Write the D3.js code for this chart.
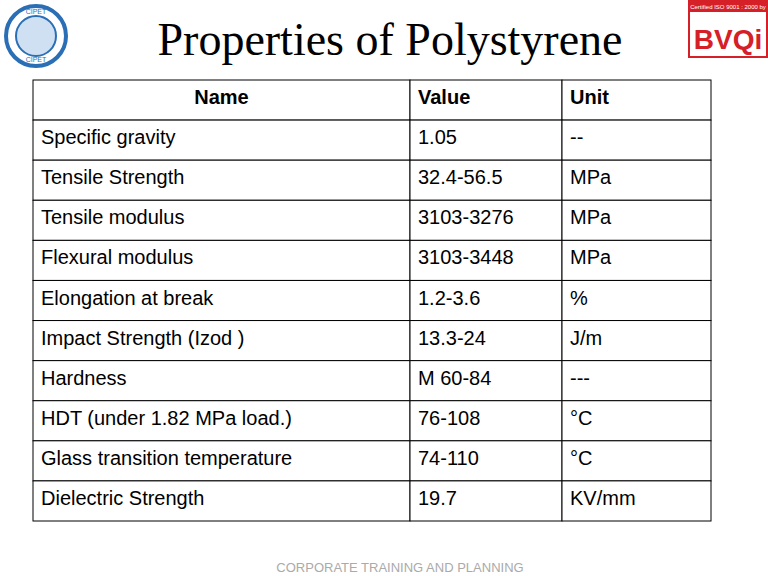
<!DOCTYPE html>
<html><head><meta charset="utf-8">
<script src="https://cdn.jsdelivr.net/npm/d3@7/dist/d3.min.js"></script>
<style>body{margin:0;background:#fff}</style></head>
<body><svg id="c" width="768" height="576"></svg>
<script>
const headers = ["Name","Value","Unit"];
const names = ["Specific gravity","Tensile Strength","Tensile modulus","Flexural modulus","Elongation at break","Impact Strength (Izod )","Hardness","HDT (under 1.82 MPa load.)","Glass transition temperature","Dielectric Strength"];
const values = ["1.05","32.4-56.5","3103-3276","3103-3448","1.2-3.6","13.3-24","M 60-84","76-108","74-110","19.7"];
const units = ["--","MPa","MPa","MPa","%","J/m","---","°C","°C","KV/mm"];

const svg = d3.select("#c");
const colEdges = [33,410,562,711];
const rows = [headers, ...names.map((n,i)=>[n,values[i],units[i]])];
const y = d3.scaleBand().domain(d3.range(rows.length)).range([80,521]);

svg.append("text").attr("x",390).attr("y",55).attr("text-anchor","middle")
  .attr("font-family","Liberation Serif").attr("font-size",46).text("Properties of Polystyrene");

const lg = svg.append("g");
lg.append("circle").attr("cx",36).attr("cy",36).attr("r",30).attr("fill","none").attr("stroke","#2a6fb5").attr("stroke-width",4);
lg.append("circle").attr("cx",36).attr("cy",36).attr("r",20).attr("fill","#cfe0f2").attr("stroke","#2a6fb5").attr("stroke-width",2);
lg.append("text").attr("x",36).attr("y",14).attr("text-anchor","middle").attr("font-size",7).attr("fill","#2a6fb5").attr("font-family","Liberation Sans").text("CIPET");
lg.append("text").attr("x",36).attr("y",62).attr("text-anchor","middle").attr("font-size",7).attr("fill","#2a6fb5").attr("font-family","Liberation Sans").text("CIPET");
const rg = svg.append("g");
rg.append("rect").attr("x",688).attr("y",0).attr("width",80).attr("height",58).attr("fill","#d62027");
rg.append("rect").attr("x",690).attr("y",12).attr("width",76).attr("height",44).attr("fill","#fff");
rg.append("text").attr("x",728).attr("y",9).attr("text-anchor","middle").attr("font-size",6).attr("fill","#fff").attr("font-family","Liberation Sans").text("Certified ISO 9001 : 2000 by");
rg.append("text").attr("x",728).attr("y",49).attr("text-anchor","middle").attr("font-size",28).attr("font-weight","bold").attr("fill","#d62027").attr("font-family","Liberation Sans").text("BVQi");

const g = svg.append("g");
rows.forEach((r,i)=>{
  r.forEach((t,j)=>{
    g.append("rect").attr("x",colEdges[j]).attr("y",y(i)).attr("width",colEdges[j+1]-colEdges[j]).attr("height",y.bandwidth())
      .attr("fill","#fff").attr("stroke","#000").attr("stroke-width",1);
    g.append("text")
      .attr("x", i===0&&j===0 ? (colEdges[0]+colEdges[1])/2 : colEdges[j]+8)
      .attr("y",y(i)+y.bandwidth()/2+4).attr("text-anchor", i===0&&j===0?"middle":"start")
      .attr("font-family","Liberation Sans").attr("font-size",20).attr("font-weight",i===0?"bold":"normal").text(t);
  });
});
svg.append("text").attr("x",400).attr("y",572).attr("text-anchor","middle").attr("font-family","Liberation Sans")
  .attr("font-size",13).attr("fill","#aaa").text("CORPORATE TRAINING AND PLANNING");
</script></body></html>
